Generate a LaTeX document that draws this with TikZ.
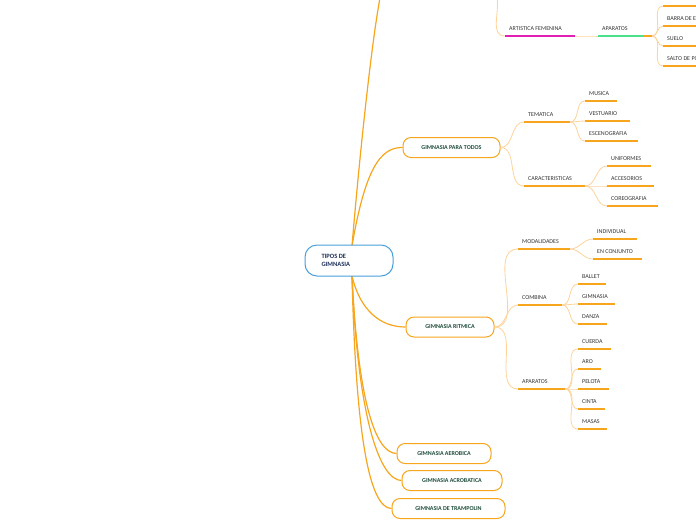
\documentclass[tikz,border=0pt]{standalone}
\usepackage{fontspec}
\setmainfont{Carlito}
\definecolor{org}{HTML}{F7A51C}
\definecolor{lorg}{HTML}{FDD39A}
\definecolor{cblue}{HTML}{4A9FDB}
\definecolor{dgreen}{HTML}{1E4D3A}
\definecolor{dblue}{HTML}{1C2E5A}
\definecolor{mag}{HTML}{E01FB5}
\definecolor{grn}{HTML}{4BE08A}
\newcommand\leaf[6][org]{%
  \coordinate (#2-s) at (#3,#5); \coordinate (#2-e) at (#4,#5);
  \draw[uline,#1] (#2-s) -- (#2-e);
  \node[ltext] (#2) at ([xshift=4pt,yshift=7.5pt]#2-s) {#6};}
\begin{document}
\begin{tikzpicture}[x=1pt,y=-1pt,
  uline/.style={line width=1.3pt},
  ltext/.style={anchor=west,font=\fontsize{6}{7}\selectfont,text=black!80,inner sep=0pt},
  mainbox/.style={draw=org,line width=1pt,rounded corners=8pt,fill=white,font=\bfseries\fontsize{6}{7}\selectfont,text=dgreen,minimum height=20pt,inner sep=0pt},
  trunk/.style={draw=org,line width=1.2pt},
  twig/.style={draw=lorg,line width=0.8pt}]
\useasboundingbox (0,0) rectangle (696,520);
\clip (0,0) rectangle (696,520);
% main boxes
\node[mainbox,minimum width=97pt] (pt) at (451.5,147.5) {GIMNASIA PARA TODOS};
\node[mainbox,minimum width=88pt] (rt) at (450,327) {GIMNASIA RITMICA};
\node[mainbox,minimum width=94pt] (ae) at (444,453.5) {GIMNASIA AEROBICA};
\node[mainbox,minimum width=100pt] (ac) at (452,480.5) {GIMNASIA ACROBATICA};
\node[mainbox,minimum width=113pt] (tr) at (448.5,508.5) {GIMNASIA DE TRAMPOLIN};
\coordinate (top) at (380,-2);
\coordinate (cu1) at (352,246);
\coordinate (cd1) at (352,276);
% trunks
\draw[trunk] (cu1) .. controls (360,150) and (372,40) .. (top);
\draw[trunk] (cu1) .. controls (365,170) and (380,147) .. (pt.west);
\draw[trunk] (cd1) .. controls (360,310) and (380,327) .. (rt.west);
\draw[trunk] (cd1) .. controls (358,400) and (375,453) .. (ae.west);
\draw[trunk] (cd1) .. controls (358,420) and (380,480) .. (ac.west);
\draw[trunk] (cd1) .. controls (356,440) and (370,508) .. (tr.west);
% central
\node[draw=cblue,line width=1pt,rounded corners=12pt,minimum width=88pt,minimum height=31pt,fill=white] (c) at (349,260.5) {};
\node[anchor=west,align=left,font=\bfseries\fontsize{6.5}{8}\selectfont,text=dblue] (ct) at (318,260.5) {TIPOS DE\\GIMNASIA};
% top part
\coordinate (tp) at (497,-2);
\leaf[mag]{af}{505}{575}{36}{ARTISTICA FEMENINA}
\draw[twig] (tp) to[out=-80,in=180] (af-s);
\leaf[grn]{ap0}{598}{643}{36}{APARATOS}
\draw[twig] (af-e) to[out=0,in=180] (ap0-s);
\coordinate (apj) at (652,36);
\draw[org,line width=1.3pt] (ap0-e) -- (apj);
\leaf{b0}{663}{700}{6}{BARRAS ASIMETRICAS}
\leaf{b1}{663}{700}{26}{BARRA DE EQUILIBRIO}
\leaf{b2}{663}{700}{46}{SUELO}
\leaf{b3}{663}{700}{66}{SALTO DE POTRO}
\foreach \n in {b0,b1,b2,b3} \draw[twig] (apj) to[out=0,in=180] (\n-s);
% para todos
\leaf{tem}{524}{570}{122}{TEMATICA}
\leaf{car}{524}{585}{186}{CARACTERISTICAS}
\foreach \n in {tem,car} \draw[twig] (pt.east) to[out=0,in=180] (\n-s);
\leaf{mu}{585}{617}{101}{MUSICA}
\leaf{ve}{585}{630}{121}{VESTUARIO}
\leaf{es}{585}{638}{141}{ESCENOGRAFIA}
\foreach \n in {mu,ve,es} \draw[twig] (tem-e) to[out=0,in=180] (\n-s);
\leaf{un}{607}{651}{166}{UNIFORMES}
\leaf{accs}{607}{654}{186}{ACCESORIOS}
\leaf{co}{607}{658}{206}{COREOGRAFIA}
\foreach \n in {un,accs,co} \draw[twig] (car-e) to[out=0,in=180] (\n-s);
% ritmica
\leaf{mo}{518}{570}{249}{MODALIDADES}
\leaf{cb}{518}{562}{305}{COMBINA}
\leaf{apr}{518}{565}{389}{APARATOS}
\foreach \n in {mo,cb,apr} \draw[twig] (rt.east) to[out=0,in=180] (\n-s);
\leaf{in}{593}{637}{239}{INDIVIDUAL}
\leaf{en}{593}{642}{259}{EN CONJUNTO}
\foreach \n in {in,en} \draw[twig] (mo-e) to[out=0,in=180] (\n-s);
\leaf{ba}{578}{606}{284}{BALLET}
\leaf{gi}{578}{615}{304}{GIMNASIA}
\leaf{da}{578}{607}{324}{DANZA}
\foreach \n in {ba,gi,da} \draw[twig] (cb-e) to[out=0,in=180] (\n-s);
\leaf{cu}{578}{611}{349}{CUERDA}
\leaf{ar}{578}{601}{369}{ARO}
\leaf{pe}{578}{609}{389}{PELOTA}
\leaf{ci}{578}{605}{409}{CINTA}
\leaf{ma}{578}{607}{429}{MASAS}
\foreach \n in {cu,ar,pe,ci,ma} \draw[twig] (apr-e) to[out=0,in=180] (\n-s);
\end{tikzpicture}
\end{document}
